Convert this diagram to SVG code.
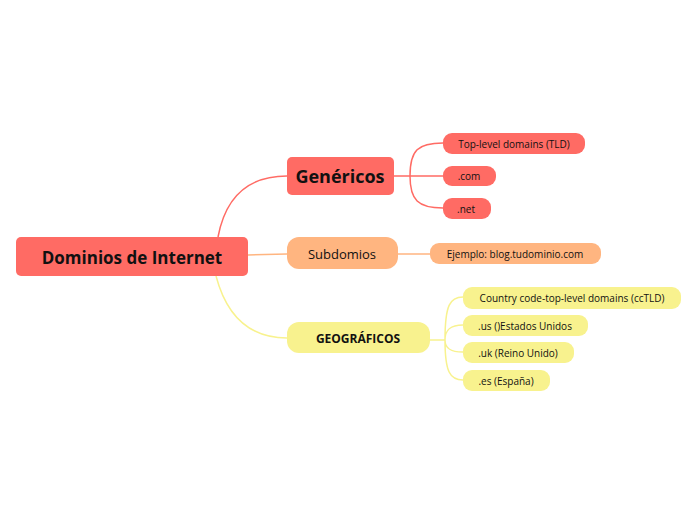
<svg xmlns="http://www.w3.org/2000/svg" width="696" height="520" viewBox="0 0 696 520">
<style>
text{font-family:"Open Sans","Noto Sans",sans-serif;fill:#111;text-anchor:middle;dominant-baseline:central}
.r{fill:#ff6b64}.o{fill:#ffb580}.y{fill:#f8f28e}
.s{font-size:10px}
path{fill:none;stroke-width:1.5}
.cr{stroke:#ff6b64}.co{stroke:#ffb580}.cy{stroke:#f8f28e}
</style>
<rect width="696" height="520" fill="#fff"/>
<g id="connectors">
<path class="cr" d="M218 237 C225 200 245 176 287 176"/>
<path class="co" d="M248 255 L287 254"/>
<path class="cy" d="M216 276 C225 310 245 338 287 338"/>
<path class="cr" d="M394 176 L410 176 M443 143 C418 143 410 150 410 176 C410 200 418 208 443 208 M410 176 L443 176"/>
<path class="co" d="M398 254 L430 254"/>
<path class="cy" d="M430 340 L445 340 M463 297 C450 297 445 305 445 340 C445 372 450 380 463 380 M445 340 C445 330 450 325 463 325 M445 340 C445 348 450 352 463 352"/>
</g>
<g id="root"><rect class="r" x="16" y="237" width="232" height="39" rx="5"/><text x="132" y="257" style="font-size:17px;font-weight:bold">Dominios de Internet</text></g>
<g id="genericos"><rect class="r" x="287" y="157" width="107" height="38" rx="5"/><text x="340" y="176" style="font-size:18px;font-weight:bold">Genéricos</text></g>
<g id="subdomios"><rect class="o" x="287" y="237" width="111" height="32" rx="12"/><text x="342" y="254" style="font-size:13px">Subdomios</text></g>
<g id="geo"><rect class="y" x="287" y="322" width="143" height="31" rx="12"/><text x="358" y="338" style="font-size:12px;font-weight:bold">GEOGRÁFICOS</text></g>
<g id="tld"><rect class="r" x="443" y="133" width="142" height="21" rx="9"/><text class="s" x="514" y="143.5">Top-level domains (TLD)</text></g>
<g id="com"><rect class="r" x="443" y="166" width="53" height="20" rx="9"/><text class="s" x="469" y="176">.com</text></g>
<g id="net"><rect class="r" x="443" y="198" width="48" height="21" rx="9"/><text class="s" x="466" y="208.5">.net</text></g>
<g id="ejemplo"><rect class="o" x="430" y="243" width="171" height="21" rx="9"/><text class="s" x="515" y="253.5">Ejemplo: blog.tudominio.com</text></g>
<g id="cctld"><rect class="y" x="463" y="287" width="218" height="22" rx="9"/><text class="s" x="572" y="298">Country code-top-level domains (ccTLD)</text></g>
<g id="us"><rect class="y" x="463" y="315" width="125" height="21" rx="9"/><text class="s" x="525" y="325.5">.us ()Estados Unidos</text></g>
<g id="uk"><rect class="y" x="463" y="342" width="111" height="21" rx="9"/><text class="s" x="518" y="352.5">.uk (Reino Unido)</text></g>
<g id="es"><rect class="y" x="463" y="370" width="87" height="21" rx="9"/><text class="s" x="506" y="380.5">.es (España)</text></g>
</svg>
